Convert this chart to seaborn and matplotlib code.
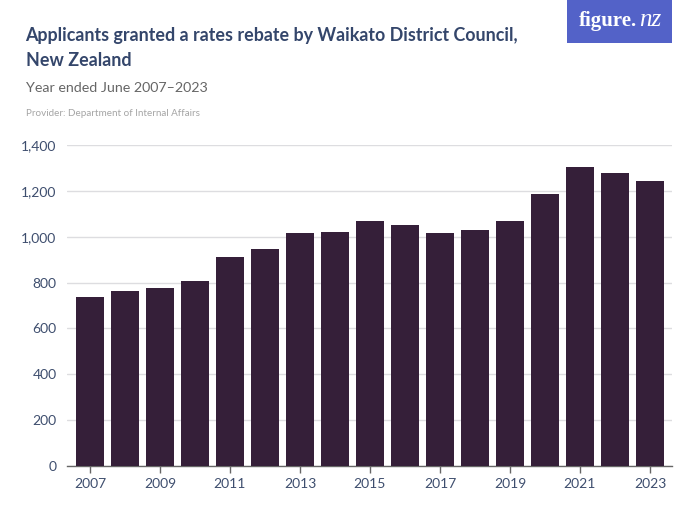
import matplotlib
matplotlib.use("Agg")
import matplotlib.pyplot as plt
import seaborn as sns
import pandas as pd
from matplotlib.patches import Rectangle

years = [str(y) for y in range(2007, 2024)]
values = [737, 762, 778, 808, 912, 948, 1016, 1022, 1067, 1052, 1016, 1030, 1070, 1188, 1305, 1278, 1242]
yticks = [0, 200, 400, 600, 800, 1000, 1200, 1400]

sns.set_theme(style="white")
FONT = "Lato"
plt.rcParams['font.family'] = [FONT, 'DejaVu Sans']

W, H = 700, 525
fig = plt.figure(figsize=(7, 5.25), dpi=100, facecolor="white")
ax = fig.add_axes([67/W, 1-466/H, (672-67)/W, (466-145)/H])
df = pd.DataFrame({"year": years, "value": values})
sns.barplot(data=df, x="year", y="value", color="#351f39", saturation=1, width=0.8,
            linewidth=0, edgecolor="none", ax=ax, zorder=3)
ax.set_xlim(-0.657, 16.63)
ax.set_ylim(0, 1400)
ax.set_xlabel("")
ax.set_ylabel("")
ax.set_yticks(yticks)
ax.set_yticklabels([f"{v:,}" for v in yticks])
ax.set_xticks(range(0, 17, 2))
ax.set_xticklabels(years[::2])
ax.grid(axis="y", color="#dddde0", lw=1, zorder=0)
ax.grid(axis="x", visible=False)
for s in ["top", "right", "left"]:
    ax.spines[s].set_visible(False)
ax.spines["bottom"].set_color("#666666")
ax.spines["bottom"].set_linewidth(1.0)
ax.tick_params(axis="x", length=5, width=1, color="#666666", labelcolor="#3e4e6e", labelsize=10, pad=3.5, bottom=True)
ax.tick_params(axis="y", length=0, labelcolor="#3e4e6e", labelsize=10, pad=7.5)

fig.text(25.5/W, 1-35/H, "Applicants granted a rates rebate by Waikato District Council,", color="#34466b",
         fontsize=12.9, fontweight="bold", va="center", ha="left")
fig.text(25.5/W, 1-61/H, "New Zealand", color="#34466b", fontsize=12.9, fontweight="bold", va="center", ha="left")
fig.text(25.5/W, 1-88/H, "Year ended June 2007–2023", color="#666666", fontsize=10.3, va="center", ha="left")
fig.text(25.5/W, 1-114/H, "Provider: Department of Internal Affairs", color="#a5a5a5", fontsize=7.1, va="center", ha="left")

fig.patches.append(Rectangle((567/W, 1-43/H), 105/W, 43/H, transform=fig.transFigure, facecolor="#5362c8", edgecolor="none"))
fig.text(579/W, 1-21/H, "figure.", color="white", fontsize=15, fontweight="bold", family="Liberation Serif", va="center", ha="left")
fig.text(661/W, 1-20/H, "nz", color="white", fontsize=18, style="italic", family="Liberation Serif", va="center", ha="right")

fig.savefig("out.png", dpi=100)
